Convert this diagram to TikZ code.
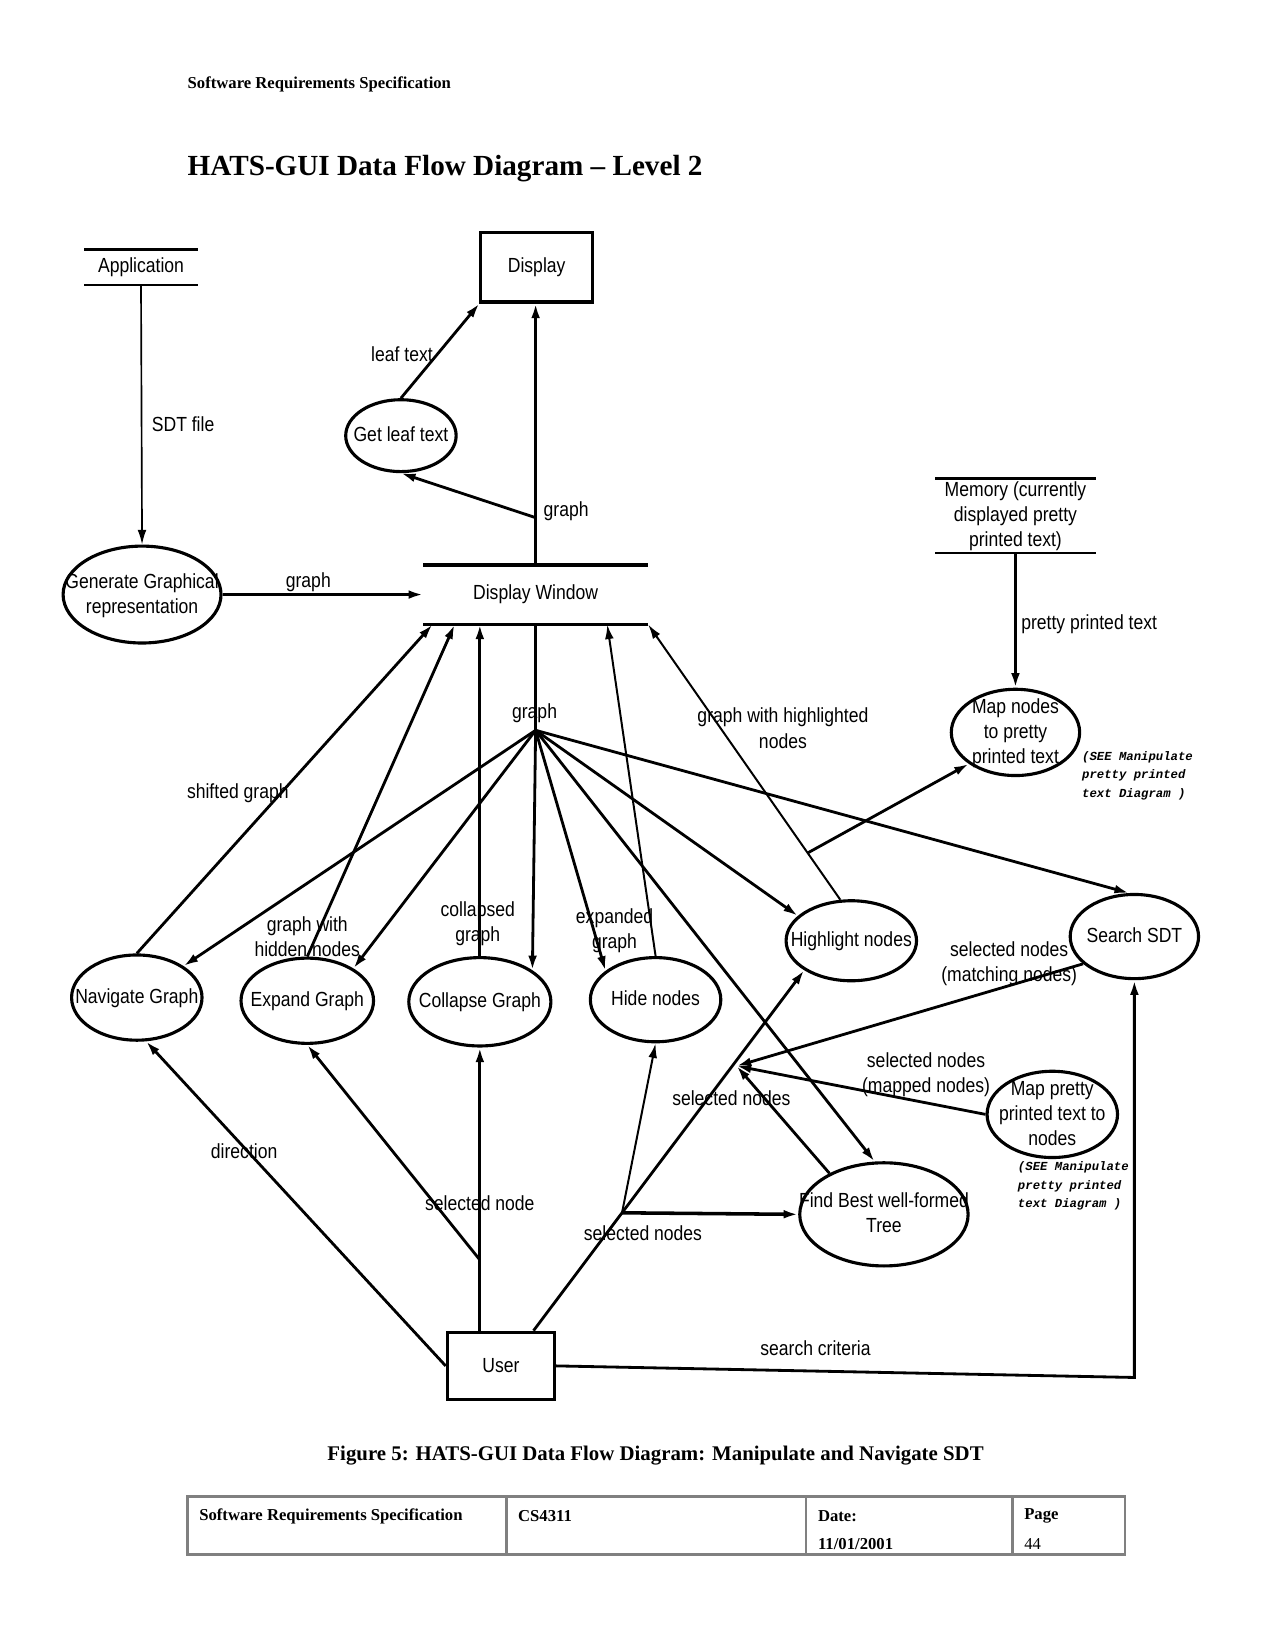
\documentclass[tikz,border=0pt]{standalone}
\usepackage{fontspec}
\setmainfont{Liberation Serif}
\newfontfamily\dfd{Liberation Sans}[FakeStretch=0.86]
\newfontfamily\notefont{Liberation Mono}
\usetikzlibrary{shapes.geometric,arrows.meta,calc}
\newcommand{\lblfont}{\dfd\fontsize{9.8}{12}\selectfont}
\newcommand{\ctext}[1]{\smash{\makebox[0pt]{\raisebox{-3pt}{\begin{tabular}{@{}c@{}}#1\end{tabular}}}}}
\begin{document}
\begin{tikzpicture}[x=0.505pt,y=-0.505pt,
  lbl/.style={font=\lblfont, align=center, inner sep=0pt},
  proc/.style={ellipse, draw, line width=1.5pt, inner sep=0pt, font=\lblfont},
  ent/.style={rectangle, draw, line width=1.5pt, inner sep=0pt, font=\lblfont},
  store/.style={rectangle, inner sep=0pt, font=\lblfont},
  storeline/.style={line width=1.3pt},
  flow/.style={line width=1.35pt, -{Latex[length=7pt,width=4.2pt]}},
  thinflow/.style={flow, line width=0.95pt},
  plain/.style={line width=1.35pt},
  note/.style={font=\notefont\bfseries\itshape\fontsize{5.9}{8.8}\selectfont, align=left, inner sep=0pt, anchor=west},
  hdrtxt/.style={font=\bfseries\fontsize{8}{10}\selectfont, inner sep=0pt, anchor=west},
]
\fill[white] (0,0) rectangle (1212,1568);
\useasboundingbox (0,0) rectangle (1212,1568);

% header
\node[hdrtxt] (hdr) at (178,80) {Software Requirements Specification};
\node[font=\bfseries\fontsize{14}{17}\selectfont, inner sep=0pt, anchor=west] (ttl) at (178,160) {HATS-GUI Data Flow Diagram -- Level 2};

% entities and stores
\node[store, minimum width=54pt, minimum height=16.7pt] (app) at (134,254) {Application};
\draw[storeline] (app.north west) -- (app.north east) (app.south west) -- (app.south east);
\node[ent, minimum width=53.5pt, minimum height=33.3pt] (disp) at (510,254) {Display};
\node[store, minimum width=107.6pt, minimum height=28.3pt] (dw) at (509,565) {Display Window};
\draw[line width=1.8pt] (dw.north west) -- (dw.north east) (dw.south west) -- (dw.south east);
\node[store, minimum width=76.8pt, minimum height=35.4pt] (mem) at (965,490) {\ctext{Memory (currently\\displayed pretty\\printed text)}};
\draw[storeline] (mem.north west) -- (mem.north east) (mem.south west) -- (mem.south east);
\node[ent, minimum width=51.5pt, minimum height=32.3pt] (user) at (476,1298) {User};

% processes
\node[proc, minimum width=75.8pt, minimum height=46.5pt] (gen) at (135,565) {\ctext{Generate Graphical\\representation}};
\node[proc, minimum width=53pt, minimum height=34.5pt] (leaf) at (381,414) {\ctext{Get leaf text}};
\node[proc, minimum width=61.6pt, minimum height=41.4pt] (mapn) at (965,696) {\ctext{Map nodes\\to pretty\\printed text}};
\node[proc, minimum width=62.6pt, minimum height=40.9pt] (nav) at (130,948) {\ctext{Navigate Graph}};
\node[proc, minimum width=63.6pt, minimum height=40.9pt] (exp) at (292,951) {\ctext{Expand Graph}};
\node[proc, minimum width=68.2pt, minimum height=42.4pt] (col) at (456,952) {\ctext{Collapse Graph}};
\node[proc, minimum width=62.6pt, minimum height=40.4pt] (hide) at (623,950) {\ctext{Hide nodes}};
\node[proc, minimum width=62.6pt, minimum height=38.4pt] (hl) at (809,894) {\ctext{Highlight nodes}};
\node[proc, minimum width=61.6pt, minimum height=40.4pt] (srch) at (1078,890) {\ctext{Search SDT}};
\node[proc, minimum width=62.6pt, minimum height=41.4pt] (mapp) at (1000,1059) {\ctext{Map pretty\\printed text to\\nodes}};
\node[proc, minimum width=80.8pt, minimum height=49.5pt] (find) at (840,1154) {\ctext{Find Best well-formed\\Tree}};

% notes
\node[note] (note1) at (1028,737) {(SEE Manipulate\\pretty printed\\text Diagram )};
\node[note] (note2) at (967,1127) {(SEE Manipulate\\pretty printed\\text Diagram )};

% top flows
\draw[thinflow, line width=0.8pt] (app.south) -- (gen.north);
\draw[flow] (gen.east) -- (dw.west);
\draw[flow] (dw.north) -- (dw.north |- disp.south);
\coordinate (b1) at ($(dw.north)!0.18!(dw.north |- disp.south)$);
\draw[flow] (b1) -- (leaf.south);
\draw[flow] (leaf.north) -- (disp.south west);
\draw[flow] (mem.south) -- (mapn.north);

% hub fan-out
\coordinate (hub) at (509,694);
\draw[plain] (dw.south) -- (hub);
\draw[flow] (hub) -- (nav.34);
\draw[flow] (hub) -- (exp.35);
\draw[flow] (hub) -- (col.31);
\draw[flow] (hub) -- (hide.150);
\draw[flow] (hub) -- (hl.155);
\draw[flow] (hub) -- (srch.97);
\draw[flow] (hub) -- (find.100);

% returns to display window
\draw[flow] (nav.north) -- ($(dw.south west)+(9,0)$);
\draw[flow] (exp.north) -- ($(dw.south west)+(30,0)$);
\draw[flow] (col.north) -- (col.north |- dw.south);
\draw[thinflow] (hide.north) -- ($(dw.south west)+(175,0)$);
\draw[thinflow] (hl.105) -- (dw.south east);
\coordinate (b2) at ($(hl.105)!0.17!(dw.south east)$);
\draw[flow] (b2) -- (mapn.214);

% user flows
\draw[flow] (user.west) -- (nav.-78);
\coordinate (u1) at (col.south |- user.north);
\draw[flow] (u1) -- (col.south);
\coordinate (b3) at ($(u1)!0.25!(col.south)$);
\draw[flow] (b3) -- (exp.south);
\coordinate (u2) at ($(user.north)+(31,0)$);
\draw[flow] (u2) -- (hl.212);
\coordinate (j) at ($(u2)!0.327!(hl.212)$);
\draw[thinflow] (j) -- (hide.south);
\draw[flow, line width=1.7pt] (j) -- (find.west);
\coordinate (sc) at (1078,1309);
\draw[flow] (user.east) -- (sc) -- (srch.south);

% selected nodes convergence
\coordinate (sel) at (700,1013);
\draw[flow] (srch.208) -- (sel);
\draw[flow] (mapp.west) -- (sel);
\draw[flow] (find.143) -- (sel);

% labels
\node[lbl] (l1) at (382,337) {leaf text};
\node[lbl] (l2) at (174,403) {SDT file};
\node[lbl] (l3) at (293,553) {graph};
\node[lbl] (l4) at (538,486) {graph};
\node[lbl] (l5) at (1035,593) {pretty printed text};
\node[lbl] (l6) at (508,678) {graph};
\node[lbl] (l7) at (744,692) {graph with highlighted\\nodes};
\node[lbl] (l8) at (226,754) {shifted graph};
\node[lbl] (l9) at (292,890) {graph with\\hidden nodes};
\node[lbl] (l10) at (454,878) {collapsed\\graph};
\node[lbl] (l11) at (584,884) {expanded\\graph};
\node[lbl] (l12) at (959,916) {selected nodes\\(matching nodes)};
\node[lbl] (l13) at (880,1021) {selected nodes\\(mapped nodes)};
\node[lbl] (l14) at (695,1044) {selected nodes};
\node[lbl] (l15) at (232,1094) {direction};
\node[lbl] (l16) at (456,1143) {selected node};
\node[lbl] (l17) at (611,1172) {selected nodes};
\node[lbl] (l18) at (775,1281) {search criteria};

% caption
\node[font=\bfseries\fontsize{10}{12}\selectfont, inner sep=0pt] (cap) at (623,1383) {Figure 5: HATS-GUI Data Flow Diagram: Manipulate and Navigate SDT};

% footer table
\draw[black!50, line width=1.3pt] (178,1422) rectangle (1069,1477);
\draw[black!50, line width=1.3pt] (481,1422) -- (481,1477) (766,1422) -- (766,1477) (962,1422) -- (962,1477);
\node[hdrtxt] (f1) at (189,1441) {Software Requirements Specification};
\node[hdrtxt] (f2) at (492,1441) {CS4311};
\node[hdrtxt] (f3) at (777,1441) {Date:};
\node[hdrtxt] (f4) at (777,1467) {11/01/2001};
\node[hdrtxt] (f5) at (973,1441) {Page};
\node[font=\fontsize{8}{10}\selectfont, inner sep=0pt, anchor=west] (f6) at (973,1467) {44};
\end{tikzpicture}
\end{document}
